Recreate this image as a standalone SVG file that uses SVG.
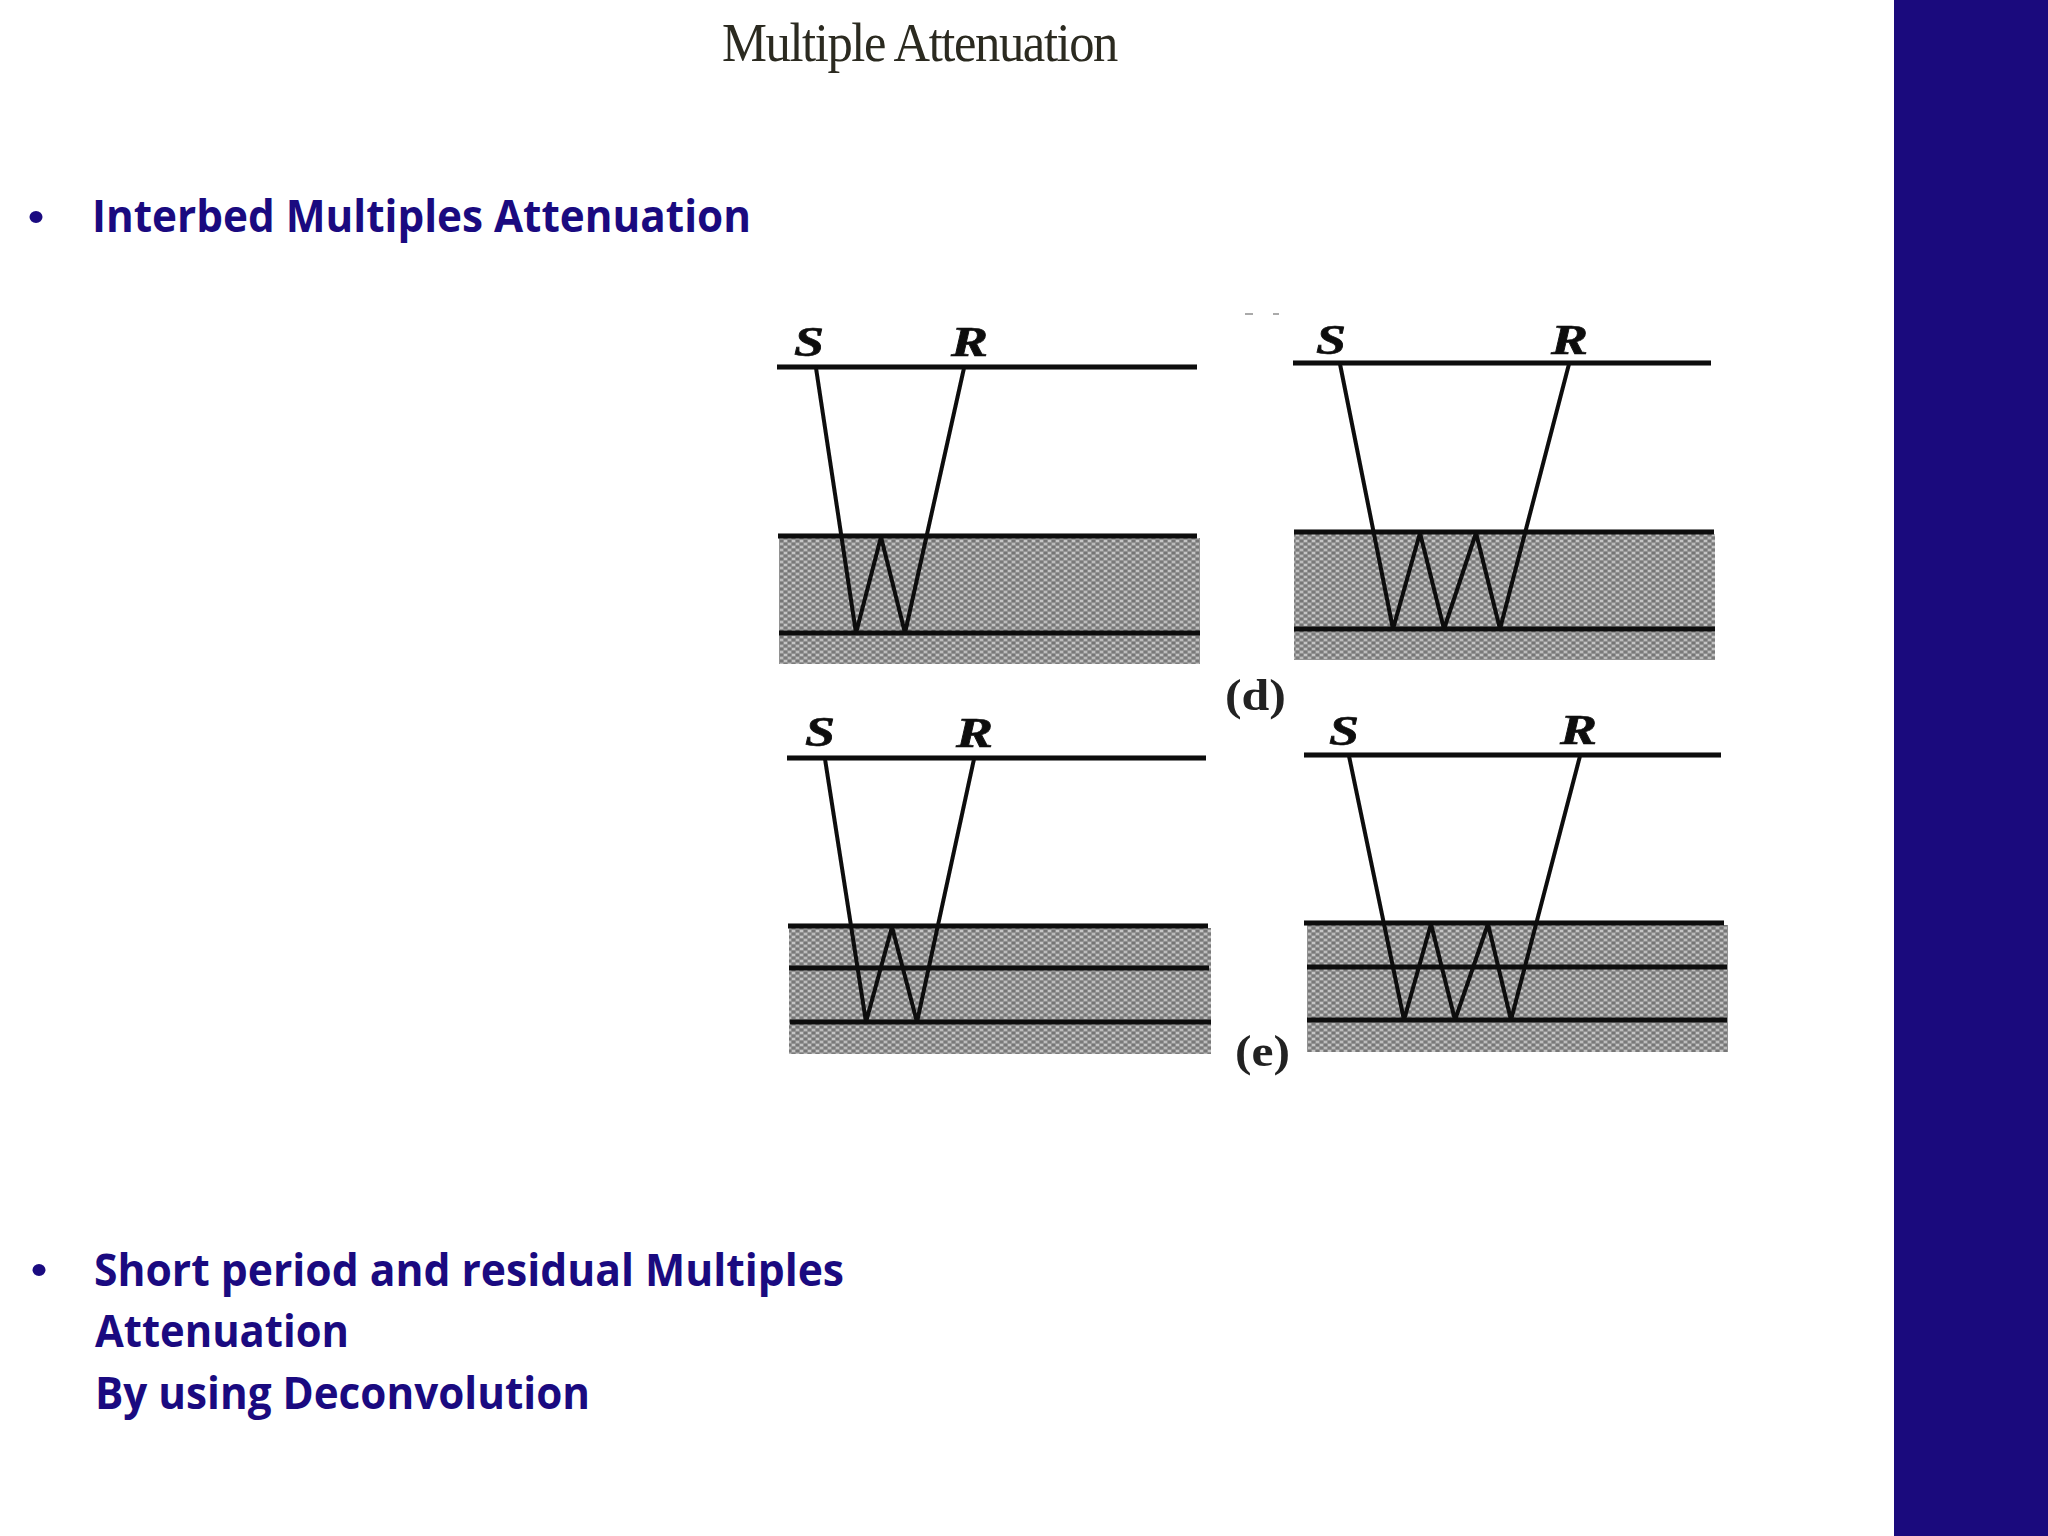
<svg xmlns="http://www.w3.org/2000/svg" width="2048" height="1536" viewBox="0 0 2048 1536">
<style>
.title{font-family:"Liberation Serif",serif;font-size:55px;fill:#2b2a20;letter-spacing:-1.5px}
.body{font-family:"Open Sans","Noto Sans",sans-serif;font-weight:700;font-size:44px;fill:#1a0a80}
.lab{font-family:"Liberation Serif",serif;font-weight:700;font-style:italic;font-size:42px;fill:#111;stroke:#111;stroke-width:.7}
.cap{font-family:"Liberation Serif",serif;font-weight:700;font-size:44px;fill:#222}
.h{stroke:#0c0c0c;stroke-width:5;fill:none}
.r{stroke:#0c0c0c;stroke-width:4;fill:none;stroke-linejoin:bevel}
.g{fill:url(#st)}
.soft{filter:url(#sf)}
</style>
<defs>
<filter id="sf" x="-2%" y="-2%" width="104%" height="104%"><feGaussianBlur stdDeviation="0.6"/></filter>
<pattern id="st" width="8" height="6" patternUnits="userSpaceOnUse">
<rect width="8" height="6" fill="#929292"/>
<rect x="0" y="0" width="3" height="2" fill="#c4c4c4"/>
<rect x="4" y="3" width="3" height="2" fill="#bcbcbc"/>
<rect x="4" y="0" width="3" height="2" fill="#767676"/>
<rect x="0" y="3" width="3" height="2" fill="#7a7a7a"/>
</pattern>
</defs>
<rect width="2048" height="1536" fill="#fff"/>
<rect id="sidebar" x="1894" y="0" width="154" height="1536" fill="#1a0a7d"/>
<text id="title" class="title" x="722" y="61" textLength="395" lengthAdjust="spacingAndGlyphs">Multiple Attenuation</text>
<g id="bullet-1">
<ellipse cx="36" cy="217" rx="6.5" ry="6" fill="#1a0a80"/>
<text class="body" x="92" y="232" textLength="659" lengthAdjust="spacingAndGlyphs">Interbed Multiples Attenuation</text>
</g>
<g id="panel-d-left" class="soft">
<rect class="g" x="779" y="538" width="421" height="126"/>
<path class="h" d="M777 367H1197M778 536H1197M779 633H1200"/>
<path class="r" d="M816 368L856 633L881 537L905 633L964 368"/>
<text class="lab" x="794" y="356" textLength="30" lengthAdjust="spacingAndGlyphs">S</text>
<text class="lab" x="951" y="356" textLength="37" lengthAdjust="spacingAndGlyphs">R</text>
</g>
<g id="panel-d-right" class="soft">
<rect class="g" x="1294" y="534" width="421" height="126"/>
<path class="h" d="M1293 363H1711M1294 532H1714M1294 629H1715"/>
<path class="r" d="M1340 364L1393 629L1420 533L1444 629L1476 533L1500 629L1569 364"/>
<text class="lab" x="1316" y="354" textLength="30" lengthAdjust="spacingAndGlyphs">S</text>
<text class="lab" x="1551" y="354" textLength="37" lengthAdjust="spacingAndGlyphs">R</text>
</g>
<g id="caption-d" class="soft">
<path d="M1245 314h8M1273 314h6" stroke="#aaa" stroke-width="2"/>
<text class="cap" x="1225" y="710" textLength="61" lengthAdjust="spacingAndGlyphs">(d)</text>
</g>
<g id="panel-e-left" class="soft">
<rect class="g" x="789" y="928" width="422" height="126"/>
<path class="h" d="M787 758H1206M788 926H1208M789 968H1209M790 1022H1211"/>
<path class="r" d="M825 759L866 1022L892 927L917 1022L974 759"/>
<text class="lab" x="805" y="746" textLength="30" lengthAdjust="spacingAndGlyphs">S</text>
<text class="lab" x="956" y="747" textLength="37" lengthAdjust="spacingAndGlyphs">R</text>
</g>
<g id="panel-e-right" class="soft">
<rect class="g" x="1307" y="925" width="421" height="127"/>
<path class="h" d="M1304 755H1721M1304 923H1724M1307 967H1727M1307 1020H1727"/>
<path class="r" d="M1349 756L1404 1020L1431 924L1455 1020L1488 924L1511 1020L1580 756"/>
<text class="lab" x="1329" y="745" textLength="30" lengthAdjust="spacingAndGlyphs">S</text>
<text class="lab" x="1560" y="744" textLength="37" lengthAdjust="spacingAndGlyphs">R</text>
</g>
<text id="caption-e" class="cap soft" x="1235" y="1066" textLength="55" lengthAdjust="spacingAndGlyphs">(e)</text>
<g id="bullet-2">
<ellipse cx="39" cy="1270" rx="6.5" ry="6" fill="#1a0a80"/>
<text class="body" x="94" y="1286" textLength="750" lengthAdjust="spacingAndGlyphs">Short period and residual Multiples</text>
<text class="body" x="95" y="1347" textLength="254" lengthAdjust="spacingAndGlyphs">Attenuation</text>
<text class="body" x="95" y="1409" textLength="495" lengthAdjust="spacingAndGlyphs">By using Deconvolution</text>
</g>
</svg>
